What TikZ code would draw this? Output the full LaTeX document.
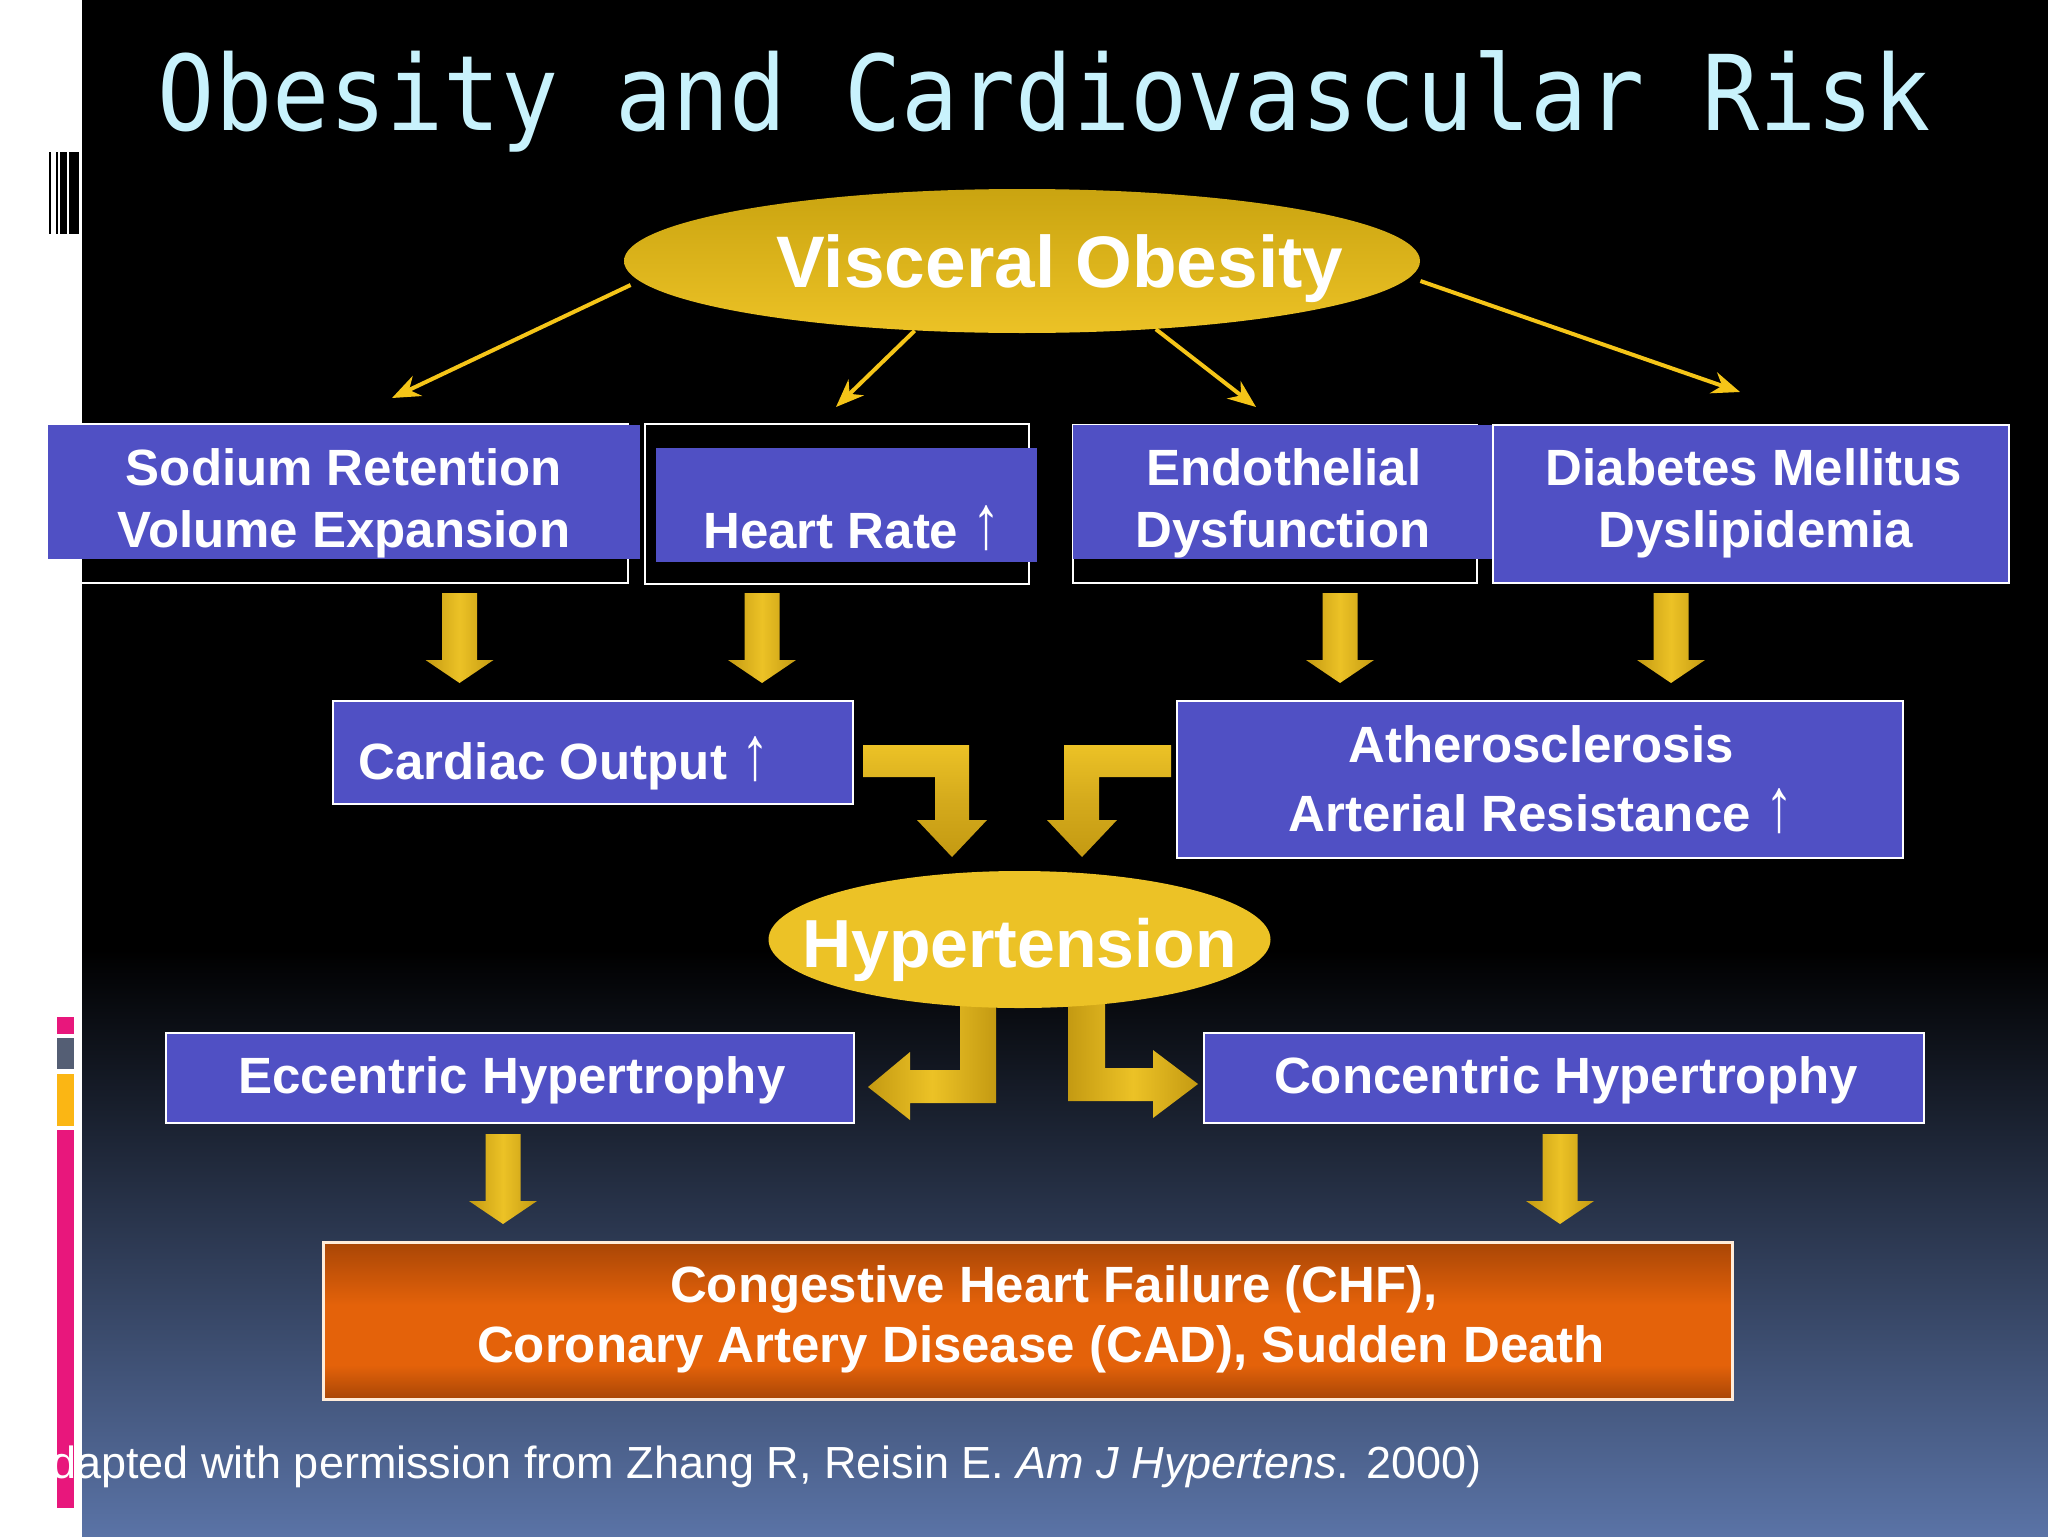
\documentclass[tikz,border=0pt]{standalone}
\usepackage{fontspec}
\setmainfont{Liberation Sans}
\newfontfamily\titlefont{DejaVu Sans Mono}
\newfontfamily\arrfont{Liberation Sans}
\usetikzlibrary{shapes.geometric,arrows.meta}
\definecolor{bluebox}{HTML}{5050C4}
\definecolor{titlecyan}{HTML}{C8F2FC}
\definecolor{goldA}{HTML}{ECC226}
\definecolor{goldB}{HTML}{C49A12}
\definecolor{goldC}{HTML}{D4AA1C}
\definecolor{thingold}{HTML}{F5C518}
\definecolor{bgblue}{HTML}{5A73A6}
\definecolor{orTop}{HTML}{A94606}
\definecolor{orMid}{HTML}{E4620A}
\definecolor{orBot}{HTML}{A84606}
\definecolor{pinkbar}{HTML}{E8177C}
\definecolor{graybar}{HTML}{545E74}
\definecolor{yellowbar}{HTML}{FBB614}
\newcommand{\uparr}{{\arrfont\mdseries\scalebox{1.1}[1.5]{↑}}}
\begin{document}
\begin{tikzpicture}[x=0.5pt,y=-0.5pt,
  outline/.style={draw=white, line width=1.2pt, inner sep=0pt, rectangle},
  bfill/.style={fill=bluebox, inner sep=0pt, rectangle},
  bbox/.style={fill=bluebox, draw=white, line width=1.2pt, inner sep=0pt, rectangle},
  txt/.style={text=white, font=\fontsize{25.5}{30}\selectfont\bfseries, anchor=base, inner sep=0pt},
  thinarr/.style={draw=thingold, line width=2pt, -{Stealth[length=14pt,width=11pt]}},
  goldfill/.style={left color=goldB, right color=goldB, middle color=goldA},
  goldfillh/.style={top color=goldA, bottom color=goldB, middle color=goldC},
  gdown/.pic={\path[goldfill] (-17.5,0) -- (17.5,0) -- (17.5,67) -- (34,67) -- (0,90) -- (-34,67) -- (-17.5,67) -- cycle;}
]
\useasboundingbox (0,0) rectangle (2048,1536);
% background
\fill[white] (0,0) rectangle (2048,1536);
\fill[black] (82,0) rectangle (2048,951);
\shade[top color=black, bottom color=bgblue] (82,950) rectangle (2048,1536);
% barcode
\fill[black] (49,152) rectangle (51,234);
\fill[black] (56,152) rectangle (58,234);
\fill[black] (60,152) rectangle (67,234);
\fill[black] (69,152) rectangle (79,234);
% side bars
\fill[pinkbar] (57,1017) rectangle (74,1034);
\fill[graybar] (57,1038) rectangle (74,1069);
\fill[yellowbar] (57,1074) rectangle (74,1126);
\fill[pinkbar] (57,1130) rectangle (74,1508);
% title
\node[text=titlecyan, font=\titlefont\fontsize{47.5}{50}\selectfont, anchor=base, inner sep=0pt] (title) at (1044.5,131) {\scalebox{1}[1.1]{Obesity and Cardiovascular Risk}};
% visceral obesity
\node[ellipse, inner sep=0pt, minimum width=398pt, minimum height=72pt, top color=goldB!90!yellow, middle color=goldB, bottom color=goldA] (vo) at (1022,261) {};
\node[text=white, font=\fontsize{36.5}{40}\selectfont\bfseries, anchor=base, inner sep=0pt] (vot) at (1060,287) {Visceral Obesity};
\coordinate (t1) at (392,398);
\coordinate (t2) at (836,407);
\coordinate (t3) at (1256,407);
\coordinate (t4) at (1740,392);
\draw[thinarr] ([xshift=3.5pt,yshift=-12pt]vo.west) -- (t1);
\draw[thinarr] (vo.213) -- (t2);
\draw[thinarr] (vo.333) -- (t3);
\draw[thinarr] ([yshift=-10pt]vo.east) -- (t4);
% row 1
\node[outline, minimum width=273.5pt, minimum height=79.5pt] (sodo) at (354.5,503.5) {};
\node[bfill, minimum width=296pt, minimum height=67pt] (sodf) at (344,492) {};
\node[outline, minimum width=192pt, minimum height=80pt] (hro) at (837,504) {};
\node[bfill, minimum width=190.5pt, minimum height=57pt] (hrf) at (846.5,505) {};
\node[outline, minimum width=202pt, minimum height=79pt] (edo) at (1275,504) {};
\node[bfill, minimum width=210pt, minimum height=67pt] (edf) at (1283,492) {};
\node[bbox, minimum width=258pt, minimum height=79pt] (dm) at (1751,504) {};
\node[txt] (sod1) at (344,485) {Sodium Retention};
\node[txt] (sod2) at (344,547) {Volume Expansion};
\node[txt] (hrt) at (852,548) {Heart Rate \uparr};
\node[txt] (ed1) at (1284,485) {Endothelial};
\node[txt] (ed2) at (1283,547) {Dysfunction};
\node[txt] (dm1) at (1754,485) {Diabetes Mellitus};
\node[txt] (dm2) at (1756,547) {Dyslipidemia};
% row 1 arrows
\pic at (459.5,593) {gdown};
\pic at (762,593) {gdown};
\pic at (1340,593) {gdown};
\pic at (1671,593) {gdown};
% row 2
\node[bbox, minimum width=260pt, minimum height=51.5pt] (co) at (593,752.5) {};
\node[bbox, minimum width=363pt, minimum height=78.5pt] (at) at (1540,779.5) {};
\node[txt] (cot) at (564,779) {Cardiac Output \uparr};
\node[txt] (at1) at (1541,762) {Atherosclerosis};
\node[txt] (at2) at (1541,831) {Arterial Resistance \uparr};
% elbows
\path[goldfillh] (863,745) -- (969,745) -- (969,820) -- (987,820) -- (952,857) -- (917,820) -- (935,820) -- (935,777) -- (863,777) -- cycle;
\path[goldfillh] (1171,745) -- (1064,745) -- (1064,820) -- (1047,820) -- (1082,857) -- (1117,820) -- (1099,820) -- (1099,777) -- (1171,777) -- cycle;
% hypertension L arrows
\path[goldfill] (996,1000) -- (996,1103) -- (910,1103) -- (910,1120) -- (868,1087) -- (910,1052) -- (910,1070) -- (960,1070) -- (960,1000) -- cycle;
\path[goldfill] (1068,1000) -- (1068,1101) -- (1153,1101) -- (1153,1118) -- (1198,1084) -- (1153,1050) -- (1153,1068) -- (1105,1068) -- (1105,1000) -- cycle;
\node[ellipse, inner sep=0pt, minimum width=251pt, minimum height=68.5pt, top color=goldA, middle color=goldB, bottom color=goldA] (hy) at (1019.5,939.5) {};
\node[text=white, font=\fontsize{34}{38}\selectfont\bfseries, anchor=base, inner sep=0pt] (hyt) at (1019.5,967) {Hypertension};
% row 3
\node[bbox, minimum width=344pt, minimum height=45pt] (ec) at (510,1078) {};
\node[bbox, minimum width=360pt, minimum height=45pt] (cc) at (1564,1078) {};
\node[txt] (ect) at (512,1093) {Eccentric Hypertrophy};
\node[txt] (cct) at (1566,1093) {Concentric Hypertrophy};
\pic at (503,1134) {gdown};
\pic at (1560,1134) {gdown};
% CHF
\node[fill=orMid, inner sep=0pt, rectangle, minimum width=704pt, minimum height=78pt] (chf) at (1028,1321) {};
\shade[top color=orTop, bottom color=orMid] (chf.north west) rectangle (1732,1305);
\shade[top color=orMid, bottom color=orBot] (324,1365) rectangle (chf.south east);
\draw[draw=white!85!orange, line width=1.2pt] (chf.north west) rectangle (chf.south east);
\node[txt] (chf1) at (1054,1302) {Congestive Heart Failure (CHF),};
\node[txt] (chf2) at (1041,1362) {Coronary Artery Disease (CAD), Sudden Death};
% caption
\node[text=white, font=\fontsize{22.5}{27}\selectfont, anchor=base west, inner sep=0pt] (cap) at (51,1478) {dapted with permission from Zhang R, Reisin E. \textit{Am J Hypertens}. 2000)};
\end{tikzpicture}
\end{document}
